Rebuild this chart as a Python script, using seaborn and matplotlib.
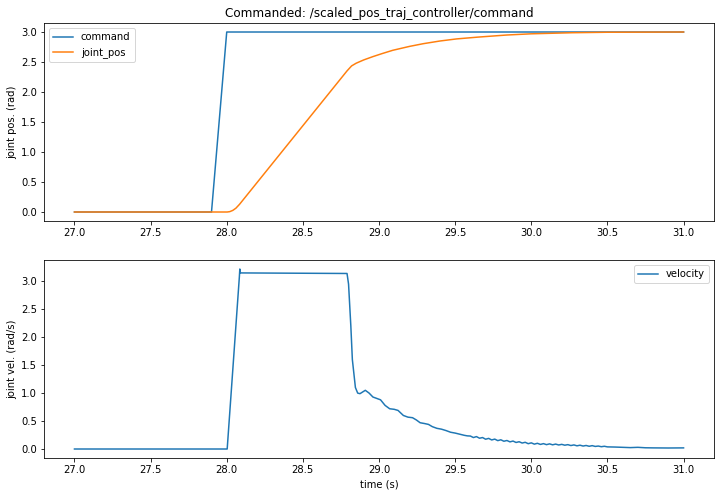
import matplotlib
matplotlib.use("Agg")
import matplotlib.pyplot as plt
import seaborn as sns
import numpy as np
import pandas as pd

# ---- data ----
cmd_t = [27.0, 27.9, 28.0, 31.0]
cmd_v = [0.0, 0.0, 3.0, 3.0]

pos_t = [27.0, 28.003, 28.02, 28.04, 28.06, 28.084, 28.79, 28.82, 28.85, 28.90,
         28.96, 29.02, 29.09, 29.2, 29.29, 29.4, 29.51, 29.65, 29.84, 30.0,
         30.27, 30.5, 31.0]
pos_v = [0.0, 0.0, 0.006, 0.027, 0.063, 0.128, 2.352, 2.435, 2.48, 2.535,
         2.59, 2.64, 2.695, 2.76, 2.805, 2.85, 2.885, 2.915, 2.95, 2.97,
         2.988, 2.996, 3.0]

vel_t = [27.0, 28.003, 28.083, 28.086, 28.09, 28.79, 28.80, 28.815, 28.825, 28.845,
         28.86, 28.875, 28.91, 28.935, 28.96, 28.99, 29.01, 29.04, 29.07, 29.10,
         29.125, 29.16, 29.19, 29.22, 29.245, 29.27, 29.30, 29.325, 29.35, 29.38,
         29.41, 29.44, 29.47, 29.50, 29.53, 29.56, 29.58,
         29.60, 29.62, 29.64, 29.66, 29.68, 29.70, 29.72, 29.74, 29.76, 29.78,
         29.80, 29.82, 29.84, 29.86, 29.88, 29.90, 29.92, 29.94, 29.96, 29.98,
         30.00, 30.02, 30.04, 30.06, 30.08, 30.10, 30.12, 30.14, 30.16, 30.18,
         30.20, 30.22, 30.24, 30.26, 30.28, 30.30, 30.32, 30.34, 30.36, 30.38,
         30.40, 30.42, 30.44, 30.46, 30.48, 30.50, 30.55, 30.60, 30.65, 30.70,
         30.75, 30.80, 30.90, 31.0]
vel_v = [0.0, 0.0, 3.08, 3.22, 3.15, 3.14, 2.95, 2.2, 1.6, 1.1,
         1.0, 0.99, 1.05, 1.0, 0.93, 0.90, 0.88, 0.78, 0.72, 0.71,
         0.69, 0.60, 0.57, 0.56, 0.52, 0.47, 0.455, 0.44, 0.40, 0.37,
         0.355, 0.33, 0.30, 0.285, 0.265, 0.245, 0.235,
         0.232, 0.205, 0.222, 0.193, 0.205, 0.175, 0.190, 0.162, 0.177, 0.150,
         0.165, 0.139, 0.152, 0.128, 0.142, 0.117, 0.130, 0.107, 0.120, 0.095,
         0.110, 0.087, 0.102, 0.082, 0.096, 0.078, 0.092, 0.075, 0.088, 0.072,
         0.083, 0.068, 0.078, 0.062, 0.073, 0.057, 0.068, 0.053, 0.063, 0.049,
         0.060, 0.046, 0.053, 0.041, 0.049, 0.038, 0.035, 0.030, 0.025, 0.030,
         0.022, 0.020, 0.018, 0.020]

title = "Commanded: /scaled_pos_traj_controller/command"

fig, (ax1, ax2) = plt.subplots(2, 1, figsize=(10, 6.889), dpi=72)
fig.subplots_adjust(left=0.0611, right=0.9917, bottom=0.0766, top=0.9536, hspace=0.197)

sns.lineplot(x=cmd_t, y=cmd_v, ax=ax1, label="command", color="C0", sort=False)
sns.lineplot(x=pos_t, y=pos_v, ax=ax1, label="joint_pos", color="C1", sort=False)
ax1.set_title(title)
ax1.set_ylabel("joint pos. (rad)")
ax1.legend(loc="upper left")

sns.lineplot(x=vel_t, y=vel_v, ax=ax2, label="velocity", color="C0", sort=False)
ax2.set_ylabel("joint vel. (rad/s)")
ax2.set_xlabel("time (s)")
ax2.legend(loc="upper right")

for ax in (ax1, ax2):
    ax.set_xticks([27.0, 27.5, 28.0, 28.5, 29.0, 29.5, 30.0, 30.5, 31.0])
    ax.set_yticks([0.0, 0.5, 1.0, 1.5, 2.0, 2.5, 3.0])

fig.savefig("out.png", dpi=72)
